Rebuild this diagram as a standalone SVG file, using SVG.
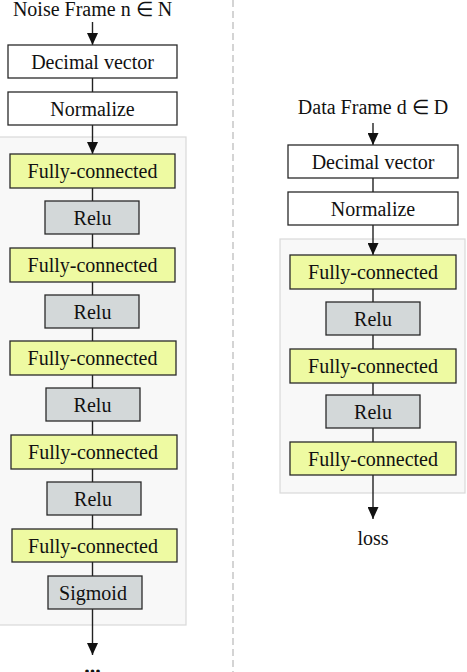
<svg xmlns="http://www.w3.org/2000/svg" width="467" height="672" viewBox="0 0 467 672">
<style>
.box{stroke:#2a2a2a;stroke-width:1.3}
.w{fill:#ffffff}
.fc{fill:#eefaa2}
.g{fill:#d3d8d9}
.cont{fill:#f8f8f8;stroke:#d9d9d9;stroke-width:1.2}
text{font-family:"Liberation Serif","Times New Roman",serif;font-size:20px;fill:#111;text-anchor:middle}
.ln{stroke:#222;stroke-width:1.4;fill:none}
</style>
<defs>
<marker id="ah" markerWidth="12" markerHeight="11" refX="12" refY="5.5" orient="auto" markerUnits="userSpaceOnUse" viewBox="0 0 12 11">
<path d="M0,0 L12,5.5 L0,11 Z" fill="#111"/>
</marker>
</defs>
<rect width="467" height="672" fill="#ffffff"/>
<line x1="233" y1="0" x2="233" y2="672" stroke="#bdbdbd" stroke-width="1.3" stroke-dasharray="7,4"/>
<rect class="cont" x="-1" y="137" width="187" height="488"/>
<rect class="cont" x="280" y="239" width="185" height="254"/>
<g id="connectors">
<line class="ln" x1="92.5" y1="22" x2="92.5" y2="45" marker-end="url(#ah)"/>
<line class="ln" x1="92.5" y1="78" x2="92.5" y2="92"/>
<line class="ln" x1="92.5" y1="125" x2="92.5" y2="154" marker-end="url(#ah)"/>
<line class="ln" x1="92.5" y1="188" x2="92.5" y2="201"/>
<line class="ln" x1="92.5" y1="234" x2="92.5" y2="248"/>
<line class="ln" x1="92.5" y1="282" x2="92.5" y2="295"/>
<line class="ln" x1="92.5" y1="328" x2="92.5" y2="341"/>
<line class="ln" x1="92.5" y1="375" x2="92.5" y2="388"/>
<line class="ln" x1="92.5" y1="421" x2="92.5" y2="435"/>
<line class="ln" x1="92.5" y1="469" x2="92.5" y2="482"/>
<line class="ln" x1="92.5" y1="515" x2="92.5" y2="529"/>
<line class="ln" x1="92.5" y1="562" x2="92.5" y2="576"/>
<line class="ln" x1="92.5" y1="609" x2="92.5" y2="655" marker-end="url(#ah)"/>
<line class="ln" x1="373" y1="123" x2="373" y2="145" marker-end="url(#ah)"/>
<line class="ln" x1="373" y1="178" x2="373" y2="192"/>
<line class="ln" x1="373" y1="225" x2="373" y2="255" marker-end="url(#ah)"/>
<line class="ln" x1="373" y1="289" x2="373" y2="302"/>
<line class="ln" x1="373" y1="335" x2="373" y2="349"/>
<line class="ln" x1="373" y1="383" x2="373" y2="395"/>
<line class="ln" x1="373" y1="428" x2="373" y2="442"/>
<line class="ln" x1="373" y1="475" x2="373" y2="519" marker-end="url(#ah)"/>
</g>
<g id="noise-title"><text x="92.5" y="16">Noise Frame n ∈ N</text></g>
<g id="l-decimal"><rect class="box w" x="8" y="45" width="169" height="33"/><text x="92.5" y="68.5">Decimal vector</text></g>
<g id="l-normalize"><rect class="box w" x="8" y="92" width="169" height="33"/><text x="92.5" y="115.5">Normalize</text></g>
<g id="l-fc1"><rect class="box fc" x="10" y="154" width="165" height="34"/><text x="92.5" y="178">Fully-connected</text></g>
<g id="l-relu1"><rect class="box g" x="45" y="201" width="94" height="33"/><text x="92.5" y="224.5">Relu</text></g>
<g id="l-fc2"><rect class="box fc" x="10" y="248" width="165" height="34"/><text x="92.5" y="272">Fully-connected</text></g>
<g id="l-relu2"><rect class="box g" x="45" y="295" width="94" height="33"/><text x="92.5" y="318.5">Relu</text></g>
<g id="l-fc3"><rect class="box fc" x="10" y="341" width="166" height="34"/><text x="92.5" y="365">Fully-connected</text></g>
<g id="l-relu3"><rect class="box g" x="46" y="388" width="94" height="33"/><text x="92.5" y="411.5">Relu</text></g>
<g id="l-fc4"><rect class="box fc" x="11" y="435" width="166" height="34"/><text x="93" y="459">Fully-connected</text></g>
<g id="l-relu4"><rect class="box g" x="47" y="482" width="94" height="33"/><text x="93" y="505.5">Relu</text></g>
<g id="l-fc5"><rect class="box fc" x="12" y="529" width="165" height="33"/><text x="93" y="552.5">Fully-connected</text></g>
<g id="l-sigmoid"><rect class="box g" x="48" y="576" width="94" height="33"/><text x="93" y="599.5">Sigmoid</text></g>
<g id="l-dots"><text x="92.5" y="673" style="font-weight:bold;font-size:22px">...</text></g>
<g id="data-title"><text x="373" y="114">Data Frame d ∈ D</text></g>
<g id="r-decimal"><rect class="box w" x="288" y="145" width="170" height="33"/><text x="373" y="168.5">Decimal vector</text></g>
<g id="r-normalize"><rect class="box w" x="288" y="192" width="170" height="33"/><text x="373" y="215.5">Normalize</text></g>
<g id="r-fc1"><rect class="box fc" x="290" y="255" width="166" height="34"/><text x="373" y="279">Fully-connected</text></g>
<g id="r-relu1"><rect class="box g" x="326" y="302" width="94" height="33"/><text x="373" y="325.5">Relu</text></g>
<g id="r-fc2"><rect class="box fc" x="290" y="349" width="166" height="34"/><text x="373" y="373">Fully-connected</text></g>
<g id="r-relu2"><rect class="box g" x="326" y="395" width="94" height="33"/><text x="373" y="418.5">Relu</text></g>
<g id="r-fc3"><rect class="box fc" x="290" y="442" width="166" height="33"/><text x="373" y="465.5">Fully-connected</text></g>
<g id="r-loss"><text x="373" y="545">loss</text></g>
</svg>
